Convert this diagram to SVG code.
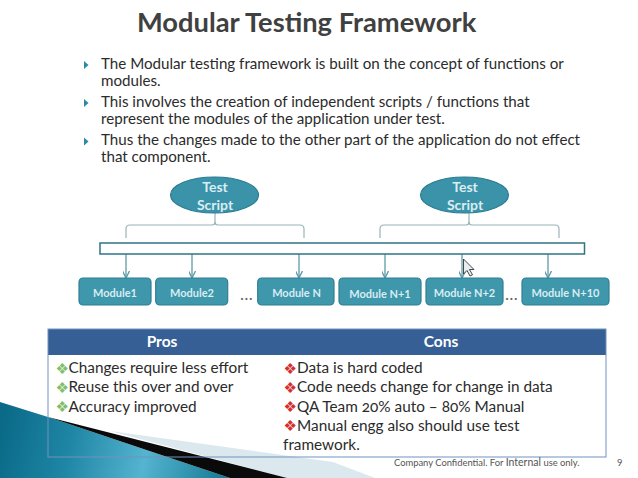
<svg xmlns="http://www.w3.org/2000/svg" width="638" height="478" viewBox="0 0 638 478">
<style>
text{font-family:"Lato","Open Sans","Liberation Sans",sans-serif}
.title{font-size:27.300px;font-weight:700;fill:#404040}
.body{font-size:15.150px;fill:#2b2b2b}
.cell{font-size:15.350px;fill:#2b2b2b;font-variant-numeric:oldstyle-nums}
.head{font-size:15.500px;font-weight:700;fill:#fff;text-anchor:middle}
.mod{fill:#3f97ac;stroke:#2f7f93;stroke-width:1.2}
.mt{font-size:11px;font-weight:700;fill:#d8ecf1;text-anchor:middle}
.oval{fill:#3a93a9;stroke:#2b7c90;stroke-width:1.2}
.ot{font-size:14px;font-weight:700;fill:#d9edf2;text-anchor:middle}
.br{fill:none;stroke:#9ab4b8;stroke-width:1.2}
.ar{stroke:#5f9aa6;stroke-width:1.3;fill:none;marker-end:url(#ah)}
.bu{fill:#2a8ba6}
.g{font-family:"DejaVu Sans",sans-serif;font-size:15px;fill:#7fbf6a}
.r{font-family:"DejaVu Sans",sans-serif;font-size:15px;fill:#d32f2f}
.dots{font-size:17px;fill:#666}
.foot{font-size:9.400px;fill:#555}
</style>
<defs>
<marker id="ah" markerWidth="9" markerHeight="7" refX="7.500" refY="3.500" orient="auto" markerUnits="userSpaceOnUse"><path d="M0.500 0 L7.500 3.500 L0.500 7" fill="none" stroke="#5f9aa6" stroke-width="1.400"/></marker>
<linearGradient id="tg" gradientUnits="userSpaceOnUse" x1="0" y1="430" x2="233" y2="478"><stop offset="0" stop-color="#0a6a88"/><stop offset="0.3" stop-color="#1f86a5"/><stop offset="0.62" stop-color="#55b4d0"/><stop offset="1" stop-color="#0f7590"/></linearGradient>
</defs>
<rect width="638" height="478" fill="#fff"/>
<g id="table">
<rect x="48" y="329" width="558" height="128" fill="#fff"/>
<rect x="48" y="329" width="558" height="26" fill="#365f96"/>
<text class="head" x="162" y="347">Pros</text>
<text class="head" x="441" y="347">Cons</text>
</g>
<g id="swoosh">
<polygon points="0,402 48,417 230,478 0,478" fill="url(#tg)"/>
<polygon points="110,431 333,462 375,478 287,478" fill="#dbe9ee"/>
<polygon points="48,417 287,478 230,478" fill="#0a0a0a"/>
</g>
<rect id="table-border" x="48" y="329" width="558" height="128" fill="none" stroke="#6f93bd" stroke-width="1"/>
<g id="title"><text class="title" x="137" y="32">Modular Testing Framework</text></g>
<g id="bullets">
<polygon class="bu" points="84,61 88.500,65 84,69"/>
<polygon class="bu" points="84,99 88.500,103 84,107"/>
<polygon class="bu" points="84,137.500 88.500,141.500 84,145.500"/>
<text class="body" x="101" y="69">The Modular testing framework is built on the concept of functions or</text>
<text class="body" x="101" y="86">modules.</text>
<text class="body" x="101" y="107">This involves the creation of independent scripts / functions that</text>
<text class="body" x="101" y="124">represent the modules of the application under test.</text>
<text class="body" x="101" y="145">Thus the changes made to the other part of the application do not effect</text>
<text class="body" x="101" y="162">that component.</text>
</g>
<g id="connectors">
<path class="br" d="M215 213V222Q215 225 212 225H130Q126 225 126 229V238"/>
<path class="br" d="M215 222Q215 225 218 225H300Q304 225 304 229V238"/>
<path class="br" d="M469 213V222Q469 225 466 225H384Q380 225 380 229V238"/>
<path class="br" d="M469 222Q469 225 472 225H555Q559 225 559 229V238"/>
<line class="ar" x1="126" y1="254" x2="126" y2="278"/>
<line class="ar" x1="192" y1="254" x2="192" y2="278"/>
<line class="ar" x1="299" y1="254" x2="299" y2="278"/>
<line class="ar" x1="385" y1="254" x2="385" y2="278"/>
<line class="ar" x1="462" y1="254" x2="462" y2="278"/>
<line class="ar" x1="548" y1="254" x2="548" y2="278"/>
</g>
<g id="bar"><rect x="100" y="243" width="484.500" height="11" fill="#fff" stroke="#2f7484" stroke-width="1.500"/></g>
<g id="script1"><ellipse class="oval" cx="214.500" cy="195" rx="44" ry="18"/><text class="ot" x="215" y="192">Test</text><text class="ot" x="215" y="210">Script</text></g>
<g id="script2"><ellipse class="oval" cx="464.500" cy="195" rx="44" ry="18"/><text class="ot" x="465" y="192">Test</text><text class="ot" x="465" y="210">Script</text></g>
<g id="m1"><rect class="mod" x="79" y="278" width="72" height="27" rx="4"/><text class="mt" x="115" y="297">Module1</text></g>
<g id="m2"><rect class="mod" x="155.700" y="278" width="72" height="27" rx="4"/><text class="mt" x="192" y="297">Module2</text></g>
<g id="mn"><rect class="mod" x="257.700" y="278" width="76.300" height="27" rx="4"/><text class="mt" x="296.500" y="297">Module N</text></g>
<g id="mn1"><rect class="mod" x="339" y="278" width="82" height="27" rx="4"/><text class="mt" x="380" y="298">Module N+1</text></g>
<g id="mn2"><rect class="mod" x="426" y="278" width="77" height="27" rx="4"/><text class="mt" x="464.500" y="297">Module N+2</text></g>
<g id="mn10"><rect class="mod" x="522" y="278" width="87" height="27" rx="4"/><text class="mt" x="565.500" y="297">Module N+10</text></g>
<text class="dots" x="240" y="300">…</text>
<text class="dots" x="505" y="300">…</text>
<path id="cursor" d="M463.500 259V274L467 270.500L470 276L472.500 274.800L469.500 269.500L474 269.500Z" fill="#e8eef0" stroke="#333" stroke-width="0.900"/>
<g id="pros">
<text class="g" x="55.500" y="373.500">❖</text><text class="cell" x="68.500" y="373">Changes require less effort</text>
<text class="g" x="55.500" y="392.500">❖</text><text class="cell" x="68.500" y="392">Reuse this over and over</text>
<text class="g" x="55.500" y="412">❖</text><text class="cell" x="68.500" y="411.500">Accuracy improved</text>
</g>
<g id="cons">
<text class="r" x="283.500" y="373.500">❖</text><text class="cell" x="297" y="373">Data is hard coded</text>
<text class="r" x="283.500" y="392.500">❖</text><text class="cell" x="297" y="392">Code needs change for change in data</text>
<text class="r" x="283.500" y="412">❖</text><text class="cell" x="297" y="411.500">QA Team 20% auto – 80% Manual</text>
<text class="r" x="283.500" y="431">❖</text><text class="cell" x="297" y="431">Manual engg also should use test</text>
<text class="cell" x="283" y="450">framework.</text>
</g>
<g id="footer">
<text class="foot" x="394" y="466">Company Confidential. For <tspan font-size="10.500">Internal</tspan> use only.</text>
<text class="foot" x="617" y="466" font-size="10">9</text>
</g>
</svg>
